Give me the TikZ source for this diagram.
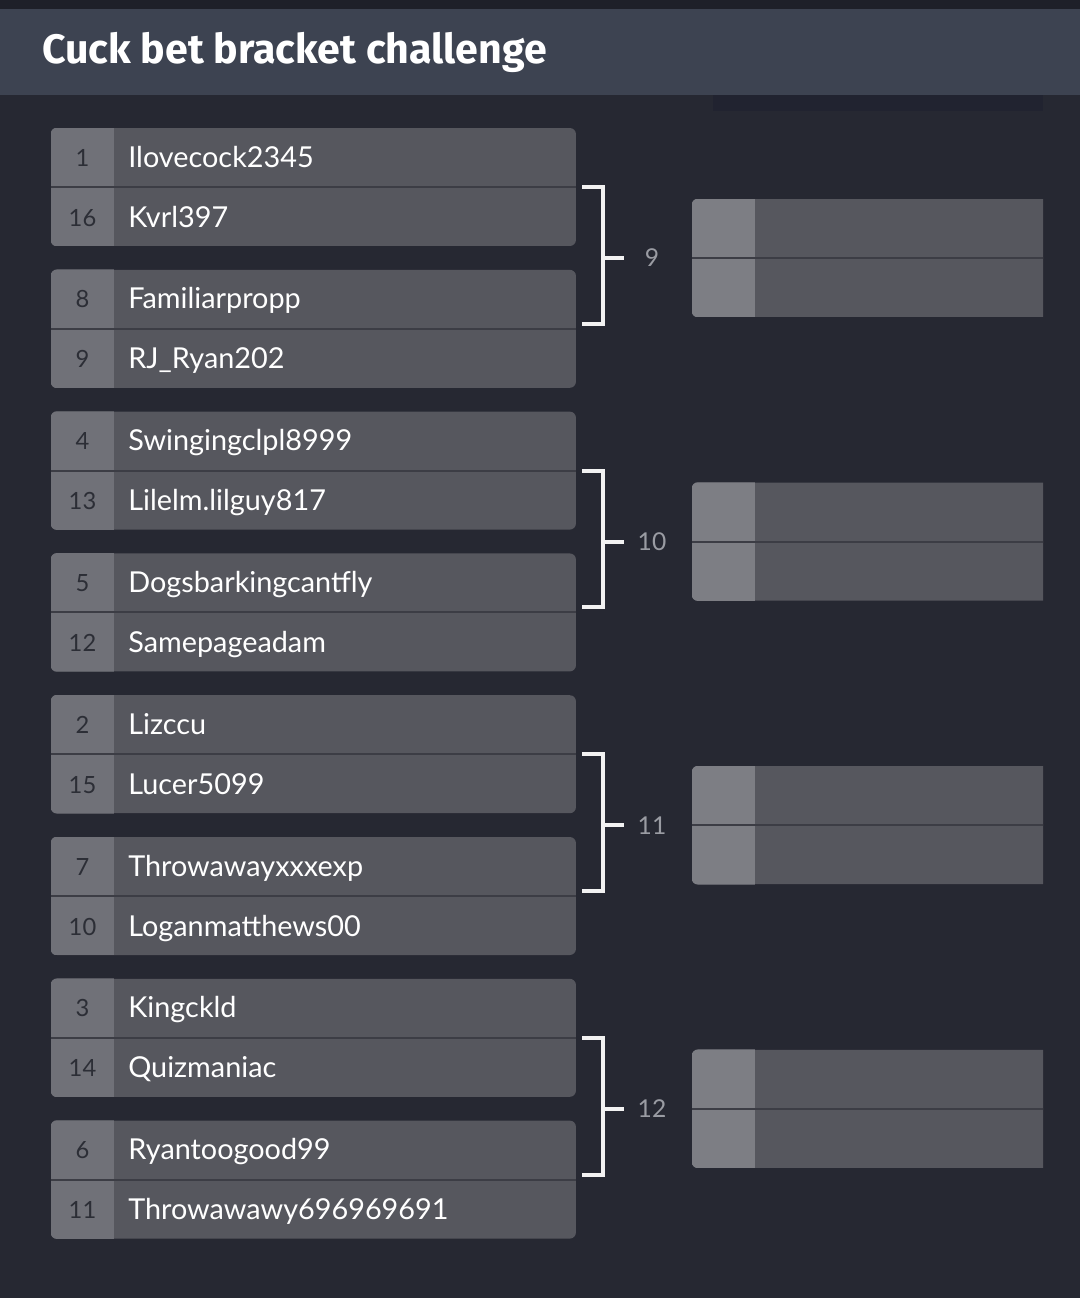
\documentclass[tikz,border=0pt]{standalone}
\usepackage{fontspec}
\setmainfont{Lato}
\newfontfamily\titlefont{Fira Sans}
\usetikzlibrary{positioning}

\definecolor{pagebg}{HTML}{262832}
\definecolor{topstrip}{HTML}{1E2029}
\definecolor{headbar}{HTML}{3D4351}
\definecolor{namecell}{HTML}{56575E}
\definecolor{seedcell}{HTML}{707178}
\definecolor{seedcellr}{HTML}{7D7E84}
\definecolor{rowline}{HTML}{3C3D45}
\definecolor{seedtext}{HTML}{2C2E36}
\definecolor{roundtext}{HTML}{9A9CA3}
\definecolor{bracketline}{HTML}{F2F2F2}
\definecolor{ghost}{HTML}{212330}

\tikzset{
	matchbox/.style={fill=namecell, rounded corners=3.5pt, minimum width=10.5cm, minimum height=2.36cm, inner sep=0pt},
	nextbox/.style={matchbox, minimum width=7.36cm},
	seed/.style={anchor=base, inner sep=0pt, text=seedtext, font=\fontsize{13.5}{14}\selectfont},
	player/.style={anchor=base west, inner sep=0pt, text=white, font=\fontsize{16.4}{18}\selectfont},
	roundno/.style={inner sep=0pt, text=roundtext, font=\fontsize{14}{16}\selectfont},
	bracket/.style={draw=bracketline, line width=2.3pt},
	rowsplit/.style={draw=rowline, line width=1.1pt}
}

\begin{document}
\begin{tikzpicture}[x=0.02cm,y=-0.02cm]
	\fill[pagebg] (0,0) rectangle (1080,1298);
	\fill[topstrip] (0,0) rectangle (1080,9);
	\fill[headbar] (0,9) rectangle (1080,95);
	\node[anchor=base west, inner sep=0pt, text=white, font=\titlefont\bfseries\fontsize{23.4}{26}\selectfont] (title) at (42,63) {Cuck bet bracket challenge};

	% first round
	\foreach \sda/\pla/\sdb/\plb [count=\i from 0] in {1/Ilovecock2345/16/Kvrl397, 8/Familiarpropp/9/RJ\_Ryan202, 4/Swingingclpl8999/13/Lilelm.lilguy817, 5/Dogsbarkingcantfly/12/Samepageadam, 2/Lizccu/15/Lucer5099, 7/Throwawayxxxexp/10/Loganmatthews00, 3/Kingckld/14/Quizmaniac, 6/Ryantoogood99/11/Throwawawy696969691}{
		\pgfmathsetmacro\mtop{128+141.8*\i}
		\node[matchbox] (m\i) at (313.5,\mtop+59) {};
		\begin{scope}
			\clip[rounded corners=3.5pt] (m\i.north west) rectangle (m\i.south east);
			\fill[seedcell] (m\i.north west) rectangle ([xshift=1.26cm]m\i.south west);
		\end{scope}
		\draw[rowsplit] (m\i.west) -- (m\i.east);
		\node[seed] (sa\i) at (82.5,\mtop+38) {\sda};
		\node[player] (pa\i) at (128,\mtop+39) {\pla};
		\node[seed] (sb\i) at (82.5,\mtop+98) {\sdb};
		\node[player] (pb\i) at (128,\mtop+99) {\plb};
	}

	% second round, cut off at the right
	\begin{scope}
		\clip (0,0) rectangle (1043,1298);
		\fill[ghost] (713,95) rectangle (1043,111);
		\foreach \j in {0,...,3}{
			\node[nextbox] (r\j) at (876,{258+283.6*\j}) {};
			\begin{scope}
				\clip[rounded corners=3.5pt] (r\j.north west) rectangle (r\j.south east);
				\fill[seedcellr] (r\j.north west) rectangle ([xshift=1.26cm]r\j.south west);
			\end{scope}
			\draw[rowsplit] (r\j.west) -- (r\j.east);
		}
	\end{scope}

	% brackets
	\foreach \a/\b in {0/1, 2/3, 4/5, 6/7}
		\draw[bracket] ([xshift=0.12cm]m\a.east) -| ([xshift=0.54cm,yshift=0.1cm]m\b.east) -- ([xshift=0.12cm,yshift=0.1cm]m\b.east);
	\foreach \j/\lbl in {0/9, 1/10, 2/11, 3/12}{
		\coordinate (ta\j) at (603,{258+283.6*\j});
		\coordinate (tb\j) at (624,{258+283.6*\j});
		\draw[bracket] (ta\j) -- (tb\j);
		\node[roundno] (n\j) at (652,{258+283.6*\j}) {\lbl};
	}
\end{tikzpicture}
\end{document}
